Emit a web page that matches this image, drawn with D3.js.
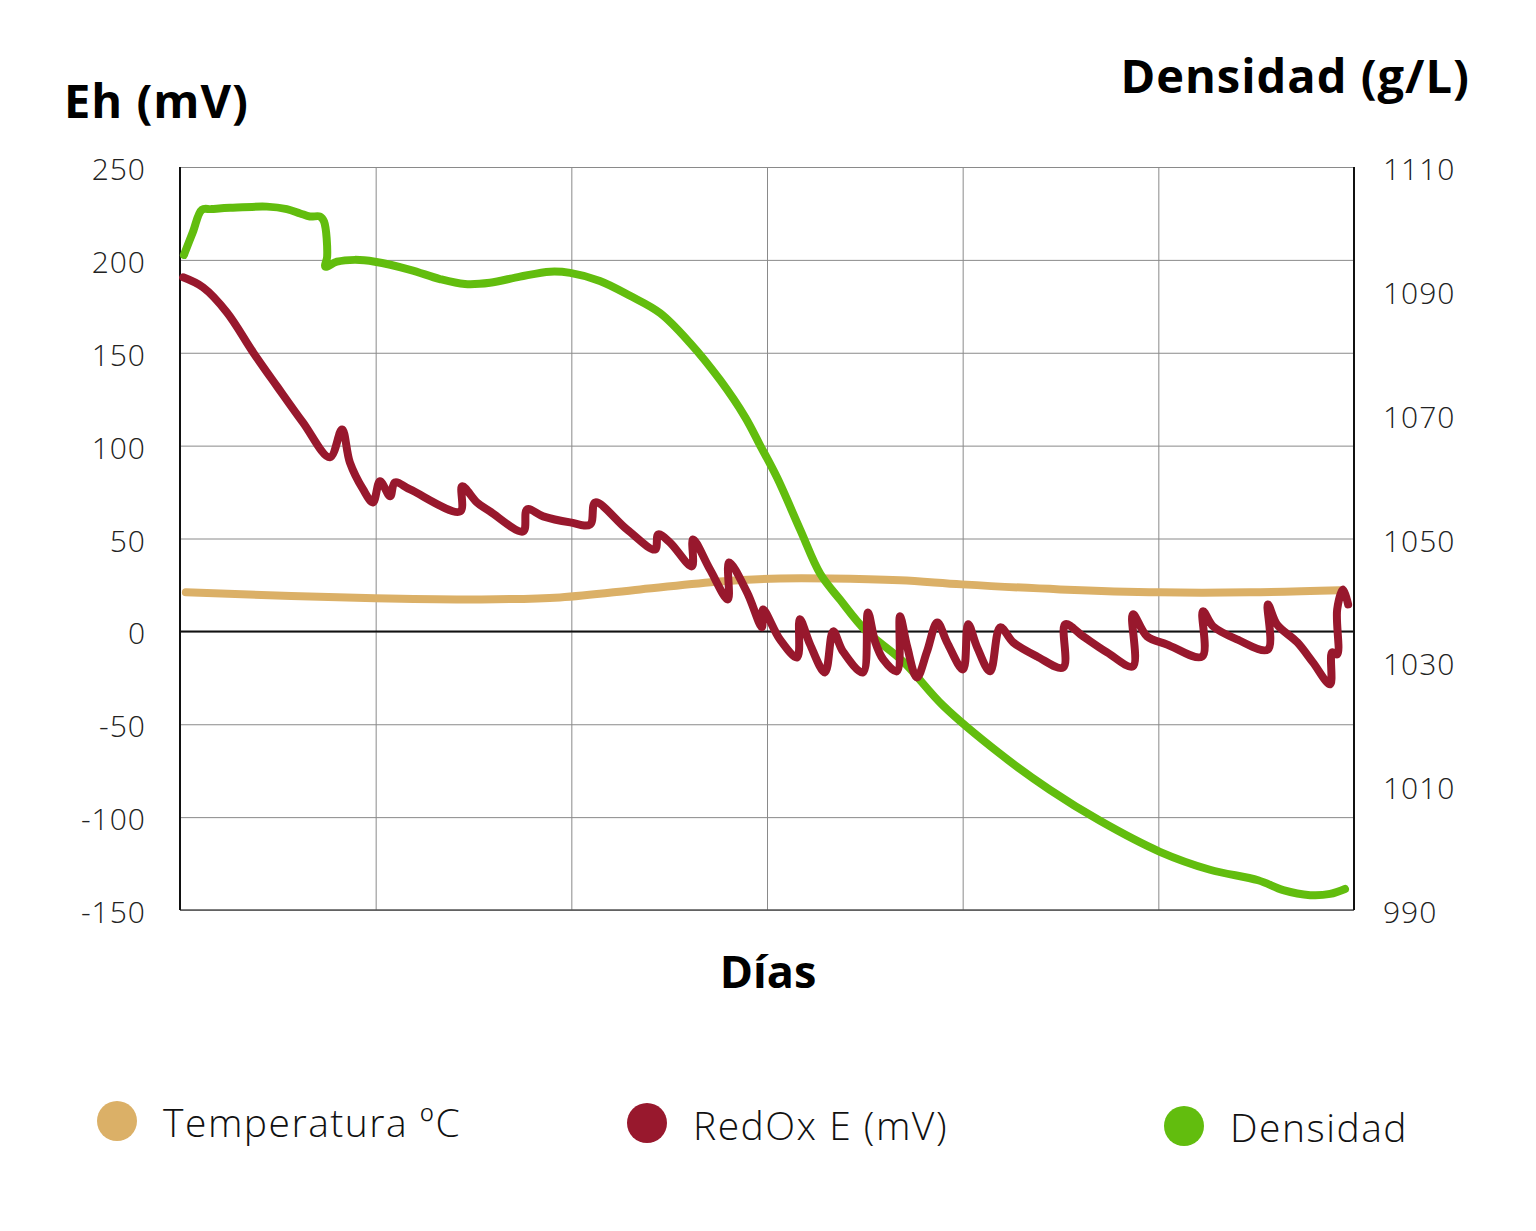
<!DOCTYPE html>
<html><head><meta charset="utf-8">
<script src="https://cdn.jsdelivr.net/npm/d3@7"></script>
<style>
html,body{margin:0;padding:0;background:#fff;}
svg{display:block;}
</style></head>
<body>
<svg id="chart" width="1536" height="1231"></svg>
<script>
// ---- data ----
const dayDomain = [0, 30];
const xGridDays = [0, 5, 10, 15, 20, 25, 30];
const leftTicks = [250, 200, 150, 100, 50, 0, -50, -100, -150];
const rightTicks = [1110, 1090, 1070, 1050, 1030, 1010, 990];

const tempDays =   [0.15, 4.98, 7.67, 9.71, 11.76, 13.80, 15.33, 16.61, 18.40, 19.98, 22.49, 25.04, 27.34, 29.64];
const tempValues = [21.0, 17.8, 17.2, 18.3, 22.6, 26.9, 28.5, 28.5, 27.5, 25.3, 22.6, 21.0, 21.0, 22.1];

const redoxDays = [0.08,0.59,1.20,1.87,2.48,3.14,3.83,4.14,4.34,4.68,4.93,5.11,5.37,5.49,5.88,7.16,7.21,7.59,7.92,8.77,8.87,9.28,9.97,10.48,10.61,11.42,12.14,12.22,12.52,13.08,13.11,13.54,14.00,14.03,14.49,14.87,14.90,15.33,15.77,15.84,16.10,16.48,16.69,16.94,17.45,17.58,17.76,17.97,18.32,18.40,18.58,18.83,19.09,19.35,19.60,20.01,20.14,20.37,20.70,20.96,21.29,21.90,22.57,22.62,23.08,23.69,24.35,24.35,24.71,25.22,26.12,26.14,26.40,27.01,27.80,27.80,28.03,28.55,28.95,29.39,29.44,29.57,29.57,29.72,29.85];
const redoxValues = [190.6,185.2,171.7,150.2,131.9,112.5,93.7,108.7,91.0,76.4,69.4,80.8,72.7,80.2,76.4,64.6,78.1,69.4,64.6,53.8,65.7,61.9,58.7,57.6,69.4,54.9,44.1,52.2,47.9,35.0,49.5,33.4,17.2,37.1,21.0,2.2,11.8,-4.3,-14.0,6.5,-7.0,-22.1,0.0,-10.8,-22.1,10.2,-5.4,-15.1,-21.5,8.1,-8.1,-24.8,-10.8,4.8,-5.9,-20.5,3.8,-8.6,-21.5,2.2,-5.9,-13.5,-19.4,3.8,-2.7,-11.3,-18.8,9.2,-2.7,-7.0,-13.5,10.8,2.7,-4.3,-9.7,14.5,3.8,-5.9,-16.7,-28.5,-11.3,-12.4,11.8,22.6,14.5];

const densDays =   [0.10,0.33,0.56,0.80,1.28,2.22,2.73,3.07,3.32,3.58,3.68,3.76,3.71,4.01,4.47,4.98,5.88,6.64,7.28,7.92,8.69,9.46,9.97,10.73,11.50,12.27,13.03,13.80,14.44,14.82,15.26,15.85,16.36,16.87,17.51,18.48,19.50,20.96,22.23,23.51,25.04,26.32,27.55,28.19,28.88,29.39,29.77];
const densValues = [1095.8,1099.5,1103.1,1103.2,1103.4,1103.6,1103.2,1102.5,1102.0,1102.0,1101.2,1095.5,1093.9,1094.7,1095.0,1094.7,1093.4,1091.9,1091.1,1091.3,1092.3,1093.1,1092.9,1091.6,1089.2,1086.4,1081.6,1075.6,1069.6,1065.1,1059.8,1051.4,1044.3,1040.1,1035.2,1030.1,1023.0,1015.2,1009.4,1004.4,999.4,996.5,994.8,993.2,992.4,992.6,993.4];

const legendItems = ["Temperatura ºC", "RedOx E (mV)", "Densidad"];
const colors = {temp: "#dbb067", redox: "#98182d", dens: "#62bd0e"};

// ---- drawing ----
const svg = d3.select("#chart");
const L = 180, R = 1354, T = 167, B = 910;
const x = d3.scaleLinear().domain(dayDomain).range([L, R]);
const yL = d3.scaleLinear().domain([-150, 250]).range([B, T]);
const yR = d3.scaleLinear().domain([990, 1110]).range([B, T]);

const labelFont = "'Open Sans', sans-serif";
const titleFont = "'Open Sans', sans-serif";
const plainFmt = d => String(d);

// horizontal gridlines
svg.append("g").attr("transform", `translate(${L},0)`)
  .call(d3.axisLeft(yL).tickValues(leftTicks).tickSize(-(R - L)).tickFormat(""))
  .call(g => g.select(".domain").remove())
  .call(g => g.selectAll("line").attr("stroke", "#8a8a8a").attr("stroke-width", 1));

// vertical gridlines
svg.append("g").attr("transform", `translate(0,${T})`)
  .call(d3.axisBottom(x).tickValues(xGridDays.slice(1, -1)).tickSize(B - T).tickFormat(""))
  .call(g => g.select(".domain").remove())
  .call(g => g.selectAll("line").attr("stroke", "#8a8a8a").attr("stroke-width", 1));

// zero line
svg.append("line").attr("x1", L).attr("x2", R).attr("y1", yL(0)).attr("y2", yL(0))
  .attr("stroke", "#111").attr("stroke-width", 2);
// bottom line
svg.append("line").attr("x1", L).attr("x2", R).attr("y1", B).attr("y2", B)
  .attr("stroke", "#555").attr("stroke-width", 1.5);
// left / right axis lines
svg.append("line").attr("x1", L).attr("x2", L).attr("y1", T).attr("y2", B)
  .attr("stroke", "#111").attr("stroke-width", 2);
svg.append("line").attr("x1", R).attr("x2", R).attr("y1", T).attr("y2", B)
  .attr("stroke", "#111").attr("stroke-width", 2);

// left tick labels
svg.append("g").attr("transform", `translate(146,0)`)
  .call(d3.axisLeft(yL).tickValues(leftTicks).tickSize(0).tickPadding(0).tickFormat(plainFmt))
  .call(g => g.select(".domain").remove())
  .call(g => g.selectAll("text").attr("font-family", labelFont).attr("font-weight", 300)
    .attr("font-size", 30).attr("letter-spacing", 1).attr("fill", "#222").attr("dy", "0.42em"));

// right tick labels
svg.append("g").attr("transform", `translate(1383,0)`)
  .call(d3.axisRight(yR).tickValues(rightTicks).tickSize(0).tickPadding(0).tickFormat(plainFmt))
  .call(g => g.select(".domain").remove())
  .call(g => g.selectAll("text").attr("font-family", labelFont).attr("font-weight", 300)
    .attr("font-size", 30).attr("letter-spacing", 1).attr("fill", "#222").attr("dy", "0.42em"));

// axis titles
svg.append("text").attr("x", 64).attr("y", 118).text("Eh (mV)")
  .attr("font-family", titleFont).attr("font-weight", 700).attr("font-size", 47)
  .attr("letter-spacing", 1).attr("fill", "#000");
svg.append("text").attr("x", 1470).attr("y", 93).attr("text-anchor", "end").text("Densidad (g/L)")
  .attr("font-family", titleFont).attr("font-weight", 700).attr("font-size", 47)
  .attr("letter-spacing", 1).attr("fill", "#000");
svg.append("text").attr("x", 768).attr("y", 988).attr("text-anchor", "middle").text("Días")
  .attr("font-family", titleFont).attr("font-weight", 700).attr("font-size", 45).attr("fill", "#000");

// lines
const curve = d3.curveCatmullRom.alpha(0.5);
function drawLine(days, vals, yScale, color) {
  const pts = days.map((d, i) => [d, vals[i]]);
  svg.append("path").datum(pts)
    .attr("d", d3.line().x(d => x(d[0])).y(d => yScale(d[1])).curve(curve))
    .attr("fill", "none").attr("stroke", color).attr("stroke-width", 8)
    .attr("stroke-linejoin", "round").attr("stroke-linecap", "round");
}
drawLine(tempDays, tempValues, yL, colors.temp);
drawLine(densDays, densValues, yR, colors.dens);
drawLine(redoxDays, redoxValues, yL, colors.redox);

// legend
const legendPos = [{cx: 117, cy: 1121, tx: 163, ty: 1137, c: colors.temp},
                   {cx: 647, cy: 1123, tx: 693, ty: 1140, c: colors.redox},
                   {cx: 1184, cy: 1126, tx: 1230, ty: 1142, c: colors.dens}];
legendItems.forEach((name, i) => {
  const p = legendPos[i];
  svg.append("circle").attr("cx", p.cx).attr("cy", p.cy).attr("r", 20).attr("fill", p.c);
  svg.append("text").attr("x", p.tx).attr("y", p.ty).text(name)
    .attr("font-family", labelFont).attr("font-weight", 300).attr("font-size", 39)
    .attr("letter-spacing", 1.5).attr("fill", "#111");
});
</script>
</body></html>
